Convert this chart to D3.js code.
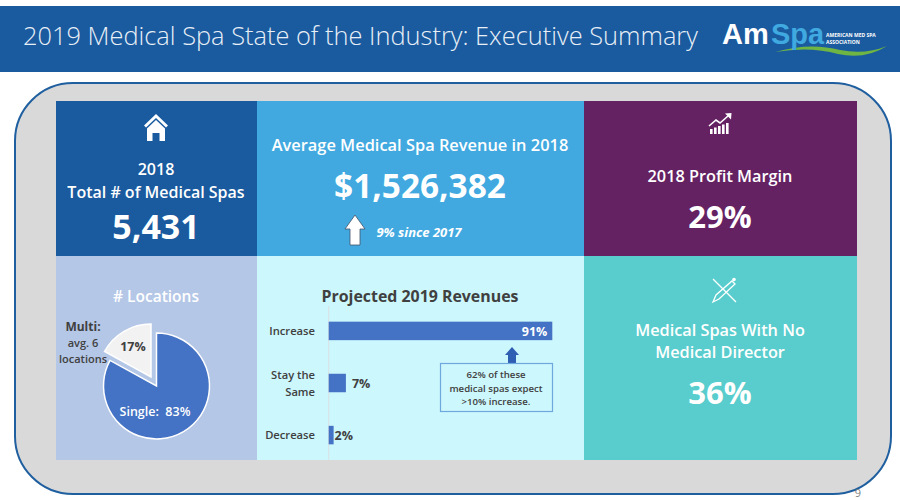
<!DOCTYPE html>
<html>
<head>
<meta charset="utf-8">
<script src="https://cdn.jsdelivr.net/npm/d3@7"></script>
<style>
html, body { margin: 0; padding: 0; background: #fff; }
svg { display: block; font-family: "Open Sans", sans-serif; }
</style>
</head>
<body>
<svg id="chart" width="900" height="500"></svg>
<script>
const locationNames = ['Single', 'Multi'];
const locationValues = [83, 17];
const revenueCategories = ['Increase', 'Stay the Same', 'Decrease'];
const revenueValues = [91, 7, 2];
const revenueLabels = ['91%', '7%', '2%'];

const svg = d3.select('#chart');

function label(x, y, text, size, color, weight, anchor, style) {
    return svg.append('text')
        .attr('x', x).attr('y', y)
        .attr('text-anchor', anchor || 'middle')
        .attr('font-size', size)
        .attr('font-weight', weight || 600)
        .attr('font-style', style || 'normal')
        .attr('fill', color)
        .text(text);
}

// header band
svg.append('rect').attr('x', 0).attr('y', 6).attr('width', 900).attr('height', 66).attr('fill', '#1a5a9e');
label(23, 45, '2019 Medical Spa State of the Industry: Executive Summary', 25.4, '#e8eff7', 300, 'start');

// logo
svg.append('path').attr('d', 'M775 52 Q810 42 840 50 Q865 55 887 46 Q865 60 838 54 Q810 46 775 52Z').attr('fill', '#6fb544');
label(722, 44, 'Am', 29, '#fff', 700, 'start').attr('font-family', 'Liberation Sans');
label(771, 44, 'Spa', 29, '#3fa9e0', 700, 'start').attr('font-family', 'Liberation Sans');
label(826, 37, 'AMERICAN MED SPA', 5, '#fff', 700, 'start');
label(826, 44, 'ASSOCIATION', 5, '#fff', 700, 'start');

// rounded backdrop
svg.append('rect')
    .attr('x', 15).attr('y', 83).attr('width', 876).attr('height', 411).attr('rx', 58).attr('ry', 58)
    .attr('fill', '#d9d9d9').attr('stroke', '#1f5f9f').attr('stroke-width', 2);

// panels
const panels = [
    [56, 101, 201, 155, '#1a5a9e'],
    [257, 101, 327, 155, '#41a9e0'],
    [584, 101, 273, 155, '#652263'],
    [56, 256, 201, 204, '#b4c7e7'],
    [257, 256, 327, 204, '#ccf7fd'],
    [584, 256, 273, 204, '#59cdcd']
];
svg.selectAll('rect.panel').data(panels).enter().append('rect').classed('panel', true)
    .attr('x', d => d[0]).attr('y', d => d[1]).attr('width', d => d[2]).attr('height', d => d[3])
    .attr('fill', d => d[4]);

// total spas
svg.append('path')
    .attr('d', 'M156 114 L144 125.5 L146 127.5 L156 118 L166 127.5 L168 125.5Z M147 128.5 L156 120 L165 128.5 L165 141 L159.5 141 L159.5 133 L152.5 133 L152.5 141 L147 141Z')
    .attr('fill', '#fff');
label(156, 175, '2018', 16, '#fff');
label(156, 198, 'Total # of Medical Spas', 16, '#fff');
label(156, 239, '5,431', 34, '#fff', 700);

// revenue
label(420, 151, 'Average Medical Spa Revenue in 2018', 16.4, '#fff');
label(420, 198, '$1,526,382', 33.4, '#fff', 700);
svg.append('path')
    .attr('d', 'M355 215 L365 229 L360 229 L360 245 L350 245 L350 229 L345 229Z')
    .attr('fill', '#fff').attr('stroke', '#44546a').attr('stroke-width', 0.8);
label(419, 237, '9% since 2017', 13, '#fff', 700, 'middle', 'italic');

// profit margin
const chartIcon = svg.append('g').attr('fill', '#fff');
chartIcon.selectAll('rect').data([0, 1, 2, 3, 4]).enter().append('rect')
    .attr('x', d => 710 + d * 4).attr('y', d => 129 - d * 1.5).attr('width', 2.6).attr('height', d => 5 + d * 1.5);
svg.append('path').attr('d', 'M709 126 L716 120 L720 123 L728 116').attr('fill', 'none').attr('stroke', '#fff').attr('stroke-width', 1.6);
svg.append('path').attr('d', 'M725 113.5 L731.5 113 L731 119.5 Z').attr('fill', '#fff');
label(720, 182, '2018 Profit Margin', 16.3, '#fff');
label(720, 228, '29%', 31, '#fff', 700);

// locations pie
label(156, 302, '# Locations', 15.5, '#fff');
const pie = d3.pie().sort(null)(locationValues);
const arc = d3.arc().innerRadius(0).outerRadius(53);
const pieOffsets = [[156.5, 386], [151, 377]];
svg.selectAll('path.slice').data(pie).enter().append('path').classed('slice', true)
    .attr('d', arc)
    .attr('transform', (d, i) => `translate(${pieOffsets[i]})`)
    .attr('fill', (d, i) => i === 0 ? '#4472c4' : '#f2f2f2')
    .attr('stroke', '#fff').attr('stroke-width', 1.5);
label(155, 416, `${locationNames[0]}:\u00a0\u00a0${locationValues[0]}%`, 12.5, '#fff', 600);
label(133, 351, `${locationValues[1]}%`, 12.5, '#404040', 700);
label(83, 331, `${locationNames[1]}:`, 12, '#404040', 700);
label(83, 347, 'avg. 6', 11, '#404040', 600);
label(83, 363, 'locations', 11, '#404040', 600);

// projected revenues
label(420, 302, 'Projected 2019 Revenues', 15.9, '#404040', 700);
const x = d3.scaleLinear().domain([0, 91]).range([328.7, 552.3]);
const y = d3.scaleBand().domain(revenueCategories).range([305, 461]).paddingInner(0.645).paddingOuter(0.32);

svg.append('line').attr('x1', x(0)).attr('x2', x(0)).attr('y1', 306).attr('y2', 460).attr('stroke', '#d9dfe3');

svg.selectAll('rect.bar').data(revenueValues).enter().append('rect').classed('bar', true)
    .attr('x', x(0))
    .attr('y', (d, i) => y(revenueCategories[i]))
    .attr('width', d => x(d) - x(0))
    .attr('height', y.bandwidth())
    .attr('fill', '#4472c4');

label(315, 335, revenueCategories[0], 11.2, '#404040', 600, 'end');
label(315, 379, 'Stay the', 11.2, '#404040', 600, 'end');
label(315, 396, 'Same', 11.2, '#404040', 600, 'end');
label(315, 439, revenueCategories[2], 11.2, '#404040', 600, 'end');

label(x(91) - 5, y(revenueCategories[0]) + 14, revenueLabels[0], 12.5, '#fff', 700, 'end');
label(x(7) + 6, y(revenueCategories[1]) + 14, revenueLabels[1], 12.5, '#404040', 700, 'start');
label(x(2) + 1, y(revenueCategories[2]) + 14, revenueLabels[2], 12.5, '#404040', 700, 'start');

// callout
svg.append('path').attr('d', 'M512 347 L519 355 L516 355 L516 363 L508 363 L508 355 L505 355Z').attr('fill', '#2f5fb3');
svg.append('rect').attr('x', 440.5).attr('y', 363.5).attr('width', 112).attr('height', 48)
    .attr('fill', 'none').attr('stroke', '#6fa8dc').attr('stroke-width', 1.2);
label(496, 378, '62% of these', 9.6, '#404040', 600);
label(496, 392, 'medical spas expect', 9.6, '#404040', 600);
label(496, 405, '>10% increase.', 9.6, '#404040', 600);

// medical director
svg.append('path').attr('d', 'M713 279 L736 302').attr('stroke', '#fff').attr('stroke-width', 1.3);
svg.append('path').attr('d', 'M713 302 L716 295 L732 281 L735 284 L719 299Z').attr('fill', 'none').attr('stroke', '#fff').attr('stroke-width', 1.3);
svg.append('circle').attr('cx', 734).attr('cy', 279.5).attr('r', 1.8).attr('fill', '#fff');
label(720, 336, 'Medical Spas With No', 16.3, '#fff');
label(720, 358, 'Medical Director', 16.3, '#fff');
label(720, 404, '36%', 31, '#fff', 700);

// page number
label(858, 497, '9', 11, '#7f7f7f', 400);
</script>
</body>
</html>
